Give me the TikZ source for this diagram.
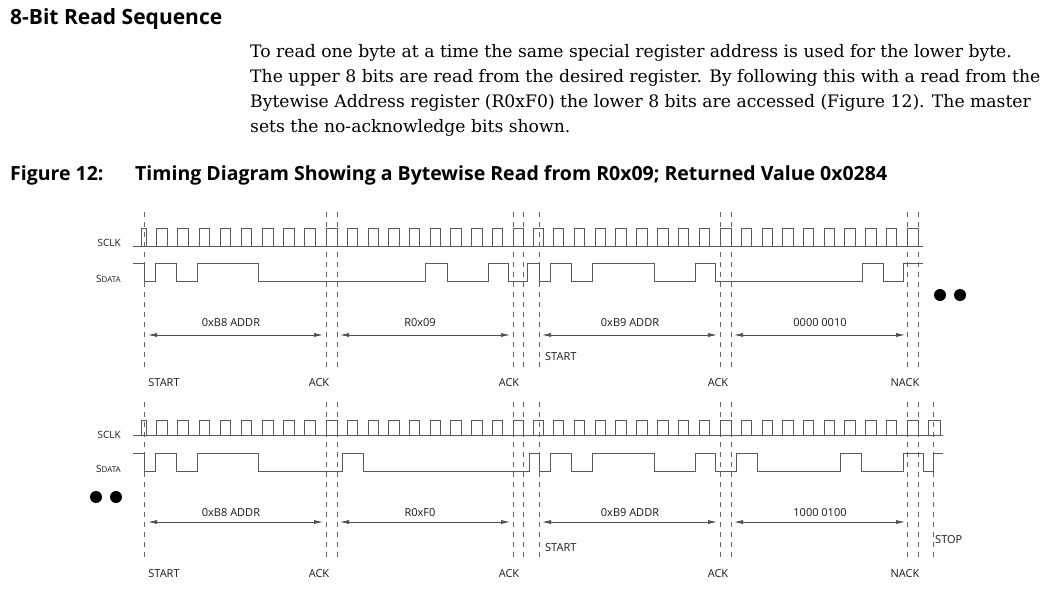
\documentclass[tikz,border=0pt]{standalone}
\usepackage{fontspec}
\setmainfont{DejaVu Serif}
\newfontfamily\hsans{Open Sans}
\usetikzlibrary{arrows.meta}
\begin{document}
\begin{tikzpicture}[x=1pt,y=-1pt,
  wave/.style={draw=black!65,line width=0.8pt},
  dline/.style={draw=black!60,line width=0.6pt,dash pattern=on 5pt off 5pt},
  dim/.style={draw=black!70,line width=0.7pt,{Latex[length=9pt,width=4pt]}-{Latex[length=9pt,width=4pt]}},
  lab/.style={font=\hsans\fontsize{11}{12}\selectfont,text=black!90,inner sep=0pt},
  sig/.style={font=\hsans\fontsize{10}{12}\selectfont,text=black!90,inner sep=0pt,anchor=east},
  para/.style={font=\fontsize{17.2}{20}\selectfont,anchor=base west,inner sep=0pt},
  head/.style={font=\hsans\bfseries\fontsize{19.5}{22}\selectfont,anchor=base west,inner sep=0pt},
  dot/.style={fill=black,circle,inner sep=0pt,minimum size=12pt}]
\useasboundingbox (0,0) rectangle (1052,592);
\fill[white] (0,0) rectangle (1052,592);
% header
\node[head,font=\hsans\bfseries\fontsize{21}{22}\selectfont] (h1) at (10,24) {8-Bit Read Sequence};
\node[para] (p1) at (250,57) {To read one byte at a time the same special register address is used for the lower byte.};
\node[para] (p2) at (250,82) {The upper 8 bits are read from the desired register. By following this with a read from the};
\node[para] (p3) at (250,107) {Bytewise Address register (R0xF0) the lower 8 bits are accessed (Figure 12). The master};
\node[para] (p4) at (250,132) {sets the no-acknowledge bits shown.};
\node[head] (f1) at (10,180) {Figure 12:};
\node[head] (f2) at (135,180) {Timing Diagram Showing a Bytewise Read from R0x09; Returned Value 0x0284};

\newcommand{\segpulses}[4]{% a b L H
  \pgfmathsetmacro{\pp}{(#2-#1)/8.5}
  \foreach \k in {0,...,7}{
    \pgfmathsetmacro{\xa}{#1+\pp/2+\k*\pp}
    \pgfmathsetmacro{\xb}{#1+\pp+\k*\pp}
    \draw[wave] (\xa,#3)--(\xa,#4)--(\xb,#4)--(\xb,#3);
  }}
\newcommand{\pulse}[4]{\draw[wave] (#1,#3)--(#1,#4)--(#2,#4)--(#2,#3);}
\newcommand{\clockrow}[2]{%
  \pulse{141}{146}{#1}{#2}\segpulses{146}{326}{#1}{#2}\pulse{326}{337}{#1}{#2}
  \segpulses{337}{513}{#1}{#2}\pulse{513}{523}{#1}{#2}\pulse{533}{543}{#1}{#2}
  \segpulses{543}{720}{#1}{#2}\pulse{720}{731}{#1}{#2}
  \segpulses{731}{907}{#1}{#2}\pulse{907}{918}{#1}{#2}}
\newcommand{\vlines}[2]{%
  \foreach \x in {144,326,337,513,523,539,720,731,907,918}{\draw[dline] (\x,#1)--(\x,#2);}}

% ---------- top row ----------
\node[sig] (sclk1) at (121,243) {SCLK};
\node[sig] (sdata1) at (121,279) {S{\fontsize{8}{10}\selectfont DATA}};
\vlines{212}{368}
\draw[wave] (133,246)--(923,246);
\clockrow{246}{228}
\draw[wave] (133,263)--(144,263)--(144,281)--(155,281)--(155,263)--(176,263)--(176,281)--(197,281)--(197,263)--(258,263)--(258,281)--(425,281)--(425,263)--(447,263)--(447,281)--(488,281)--(488,263)--(508,263)--(508,281)--(527,281)--(527,263)--(539,263)--(539,281)--(550,281)--(550,263)--(571,263)--(571,281)--(592,281)--(592,263)--(654,263)--(654,281)--(695,281)--(695,263)--(715,263)--(715,281)--(862,281)--(862,263)--(883,263)--(883,281)--(903,281)--(903,263)--(923,263);
\coordinate (a1) at (148,335); \coordinate (a2) at (323,335);
\coordinate (a3) at (340,335); \coordinate (a4) at (510,335);
\coordinate (a5) at (542,335); \coordinate (a6) at (717,335);
\coordinate (a7) at (734,335); \coordinate (a8) at (905,335);
\draw[dim] (a1)--(a2); \draw[dim] (a3)--(a4); \draw[dim] (a5)--(a6); \draw[dim] (a7)--(a8);
\node[lab] (t1) at (231,323) {0xB8 ADDR};
\node[lab] (t2) at (420,323) {R0x09};
\node[lab] (t3) at (630,323) {0xB9 ADDR};
\node[lab] (t4) at (820,323) {0000 0010};
\node[lab,anchor=west] (st1) at (545,357) {START};
\node[lab] (b1) at (164,383) {START};
\node[lab] (b2) at (319,383) {ACK};
\node[lab] (b3) at (509,383) {ACK};
\node[lab] (b4) at (718,383) {ACK};
\node[lab] (b5) at (905,383) {NACK};
\node[dot] (d1) at (940,295) {};
\node[dot] (d2) at (960,295) {};

% ---------- bottom row ----------
\node[sig] (sclk2) at (121,435) {SCLK};
\node[sig] (sdata2) at (121,469) {S{\fontsize{8}{10}\selectfont DATA}};
\vlines{402}{557}
\draw[dline] (933,402)--(933,557);
\draw[wave] (133,435)--(943,435);
\clockrow{435}{420}
\pulse{928}{940}{435}{420}
\draw[wave] (133,453)--(144,453)--(144,471)--(155,471)--(155,453)--(176,453)--(176,471)--(197,471)--(197,453)--(258,453)--(258,471)--(342,471)--(342,453)--(363,453)--(363,471)--(529,471)--(529,453)--(539,453)--(539,471)--(550,471)--(550,453)--(571,453)--(571,471)--(592,471)--(592,453)--(654,453)--(654,471)--(695,471)--(695,453)--(715,453)--(715,471)--(736,471)--(736,453)--(757,453)--(757,471)--(840,471)--(840,453)--(861,453)--(861,471)--(903,471)--(903,453)--(923,453)--(923,471)--(933,471)--(933,453)--(943,453);
\coordinate (c1) at (148,522); \coordinate (c2) at (323,522);
\coordinate (c3) at (340,522); \coordinate (c4) at (510,522);
\coordinate (c5) at (542,522); \coordinate (c6) at (717,522);
\coordinate (c7) at (734,522); \coordinate (c8) at (905,522);
\draw[dim] (c1)--(c2); \draw[dim] (c3)--(c4); \draw[dim] (c5)--(c6); \draw[dim] (c7)--(c8);
\node[lab] (u1) at (231,513) {0xB8 ADDR};
\node[lab] (u2) at (420,513) {R0xF0};
\node[lab] (u3) at (630,513) {0xB9 ADDR};
\node[lab] (u4) at (820,513) {1000 0100};
\node[lab,anchor=west] (st2) at (545,548) {START};
\node[lab,anchor=west] (sp) at (935,540) {STOP};
\node[lab] (e1) at (164,574) {START};
\node[lab] (e2) at (319,574) {ACK};
\node[lab] (e3) at (509,574) {ACK};
\node[lab] (e4) at (718,574) {ACK};
\node[lab] (e5) at (905,574) {NACK};
\node[dot] (d3) at (96,497) {};
\node[dot] (d4) at (116,497) {};
\end{tikzpicture}
\end{document}
